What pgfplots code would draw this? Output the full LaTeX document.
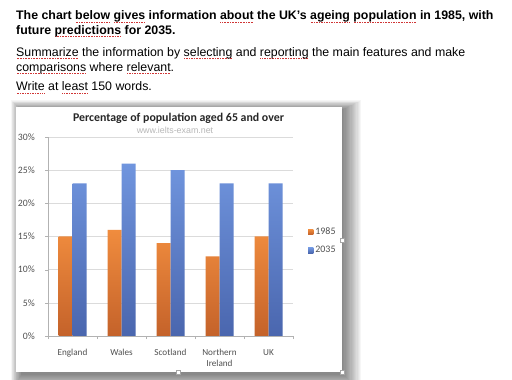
\documentclass[border=0pt]{standalone}
\usepackage{pgfplots}
\pgfplotsset{compat=1.18}
\usepackage{fontspec}
\setmainfont{Liberation Sans}
\newfontfamily\carlito{Carlito}
\definecolor{orT}{HTML}{F08C3E}
\definecolor{orB}{HTML}{C4622A}
\definecolor{blT}{HTML}{7095DE}
\definecolor{blB}{HTML}{4A66AE}
\definecolor{sqred}{HTML}{D03535}
\definecolor{lab}{HTML}{505050}
\newcommand\sq[1]{\setbox0\hbox{#1}\rlap{\color{sqred}\raisebox{-2.4bp}{\hbox to \wd0{\xleaders\hbox to 1.6bp{\hss\rule{0.8bp}{0.8bp}\hss}\hfill}}}\box0\relax}
\begin{document}
\begin{tikzpicture}
\useasboundingbox (0bp,0bp) rectangle (512bp,380bp);
\fill[white] (0bp,0bp) rectangle (512bp,380bp);
\begin{scope}
\clip (0bp,0bp) rectangle (512bp,380bp);
\foreach \i in {1,...,16} {\fill[black,opacity=0.034] (22bp-\i*0.7bp, 6bp-\i*1.0bp) rectangle (342bp+\i*1.2bp, 270bp+\i*0.6bp);}
\end{scope}
\fill[white] (16bp,8bp) rectangle (342bp,273bp);
% header text
\begin{scope}[every node/.style={anchor=base west, inner sep=0pt}]
\node at (16bp,360bp) {\fontsize{12.4}{14}\selectfont\bfseries The chart \sq{below} \sq{gives} information \sq{about} the UK's \sq{ageing} \sq{population} in 1985, with};
\node at (16bp,345.5bp) {\fontsize{12.4}{14}\selectfont\bfseries future \sq{predictions} for 2035.};
\node at (16bp,323.3bp) {\fontsize{12.4}{14}\selectfont \sq{Summarize} the information by \sq{selecting} and \sq{reporting} the main features and make};
\node at (16bp,308.5bp) {\fontsize{12.4}{14}\selectfont \sq{comparisons} where \sq{relevant}.};
\node at (16bp,289bp) {\fontsize{12.4}{14}\selectfont \sq{Write} at \sq{least} 150 words.};
\end{scope}
\begin{axis}[at={(48bp,44bp)}, anchor=south west, scale only axis,
  width=245bp, height=199bp,
  xmin=-0.5, xmax=4.5, ymin=0, ymax=30,
  axis x line*=bottom, axis y line*=left,
  axis line style={draw=gray!60, -},
  xtick={0,...,4},
  xticklabels={England,Wales,Scotland,{Northern\\Ireland},UK},
  major x tick style={draw=none},
  minor xtick={-0.5,0.5,...,4.5},
  minor x tick style={draw=gray!60},
  minor tick length=3bp, major tick length=3bp,
  tick align=outside,
  ytick={0,5,...,30},
  ytick style={draw=gray!60},
  ymajorgrids, grid style={draw=gray!28},
  yticklabel={\pgfmathprintnumber{\tick}\%},
  /pgf/number format/assume math mode=true,
  yticklabel style={font=\carlito\fontsize{9.8}{11}\selectfont, text=lab, inner sep=0pt, xshift=-10bp},
  xticklabel style={font=\carlito\fontsize{9.2}{11}\selectfont, text=lab, align=center, inner sep=0pt, yshift=-10bp},
  ybar=0pt, bar width=14bp,
  legend style={at={(1,0.477)}, anchor=west, xshift=15bp, draw=none, fill=none, inner sep=0pt, row sep=6.5bp,
    font=\carlito\fontsize{10}{11}\selectfont, text=lab, cells={anchor=west}},
  legend image code/.code={\fill[#1] (0bp,-2.6bp) rectangle (5.2bp,2.6bp);},
]
\addplot[draw=none, top color=orT, bottom color=orB] coordinates {(0,15)(1,16)(2,14)(3,12)(4,15)};
\addplot[draw=none, top color=blT, bottom color=blB] coordinates {(0,23)(1,26)(2,25)(3,23)(4,23)};
\legend{1985,2035}
\end{axis}
\node[font=\carlito\bfseries\fontsize{11.9}{13}\selectfont, text=black!85] at (178.5bp,262bp) {Percentage of population aged 65 and over};
\node[font=\fontsize{8.9}{10}\selectfont, text=black!28] at (175bp,250bp) {www.ielts-exam.net};
\foreach \x/\y in {342/140,178/8,342/8} {\draw[gray!70, fill=white, line width=0.5bp] (\x bp-2bp,\y bp-2bp) rectangle (\x bp+2bp,\y bp+2bp);}
\end{tikzpicture}
\end{document}
